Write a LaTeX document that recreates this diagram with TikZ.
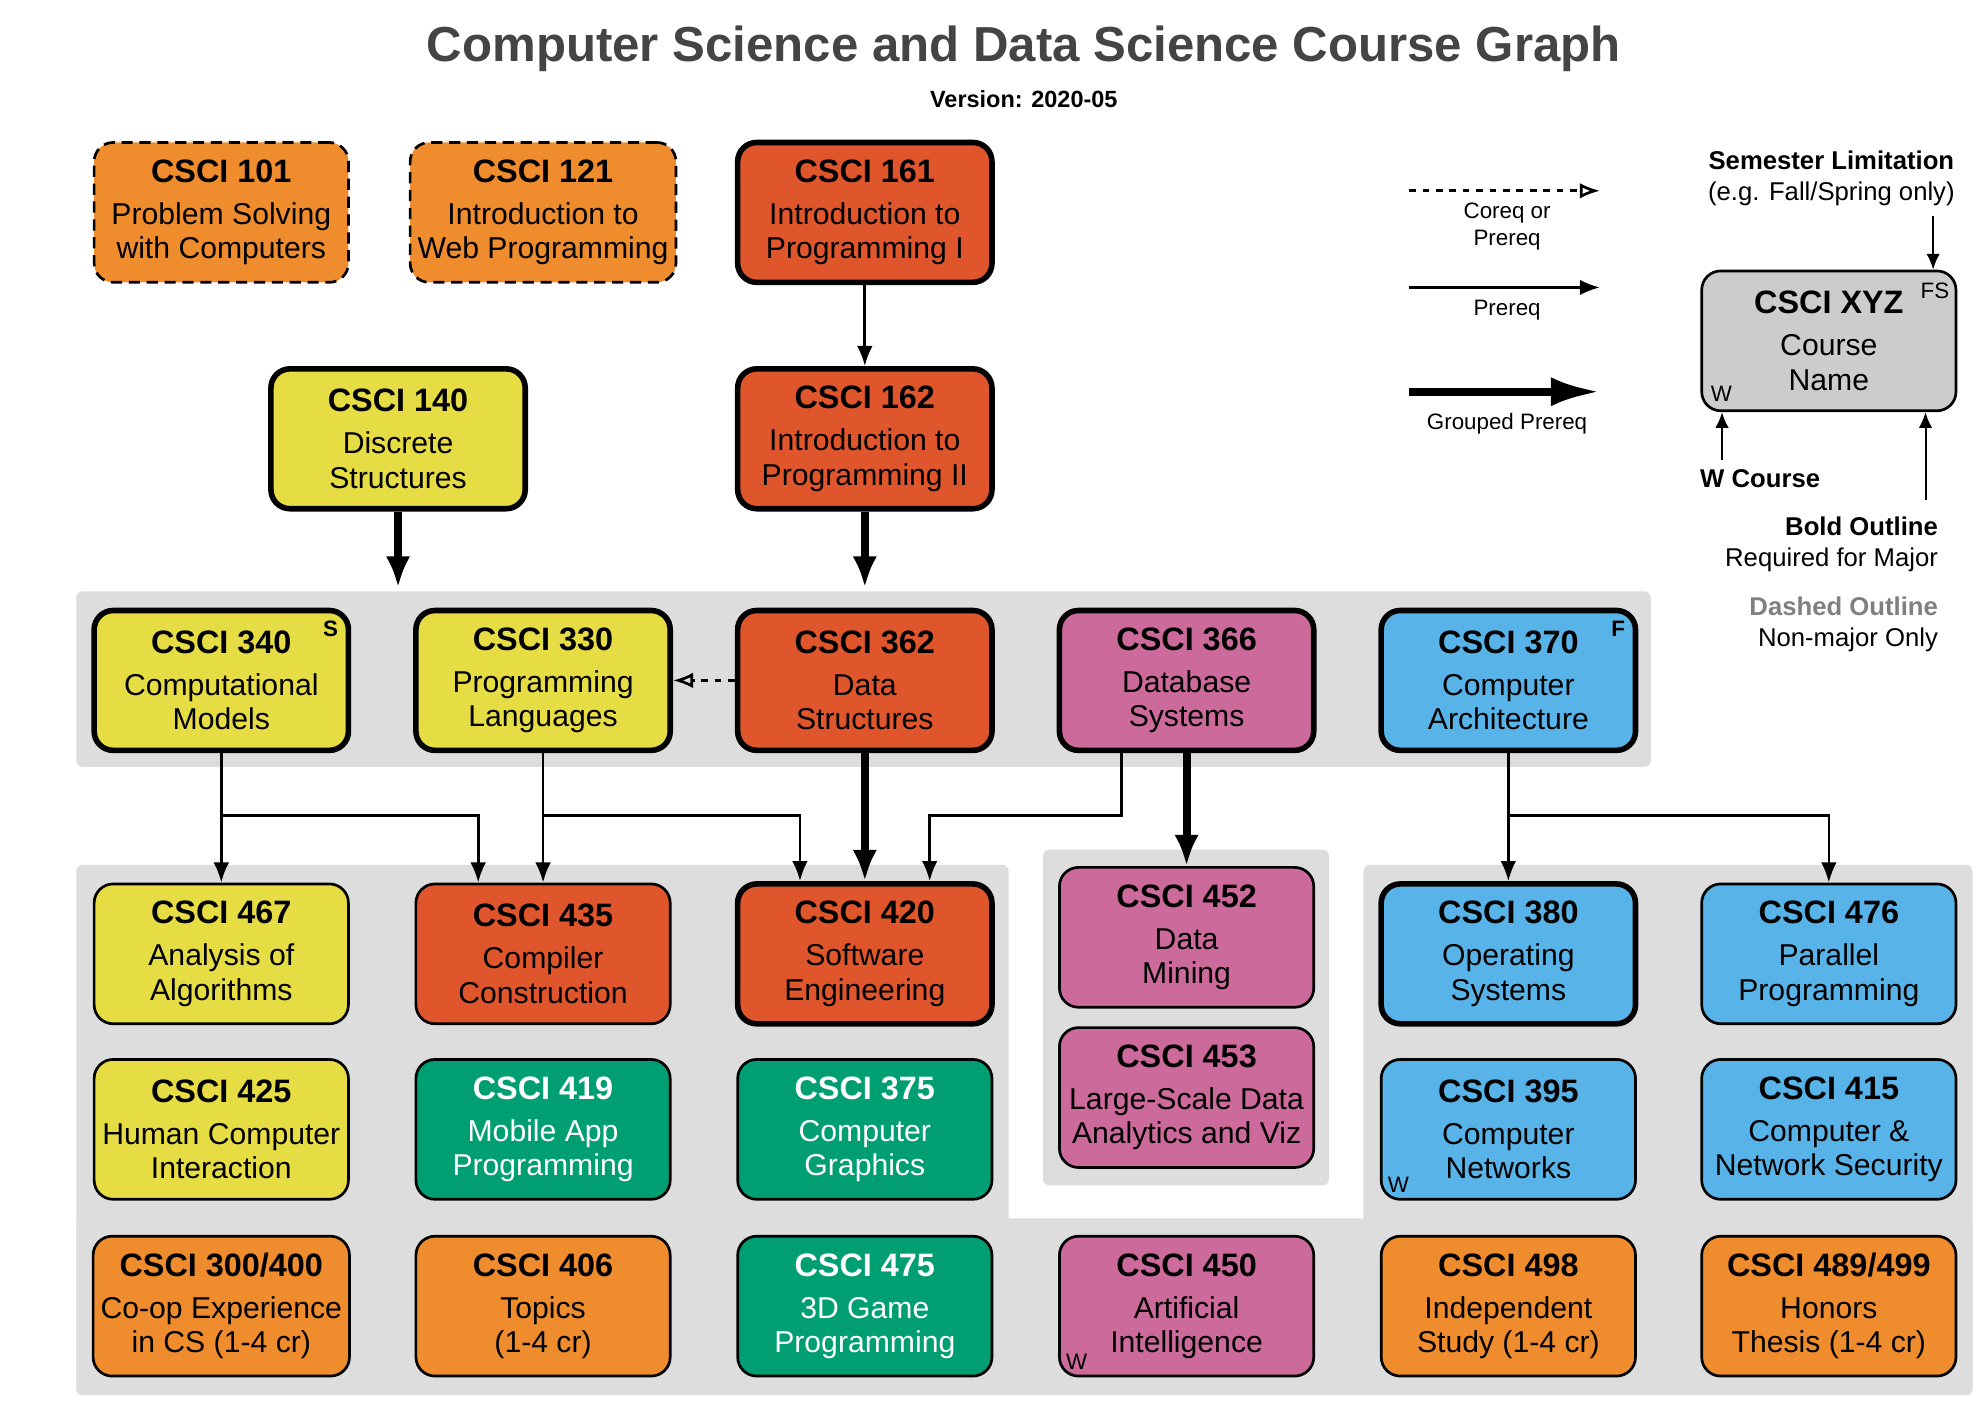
\documentclass[tikz,border=0pt]{standalone}
\usepackage{fontspec}
\setmainfont{Liberation Sans}
\usetikzlibrary{arrows.meta, positioning, calc}
\definecolor{cOrange}{HTML}{EE8C2E}
\definecolor{cRed}{HTML}{E0562C}
\definecolor{cYellow}{HTML}{E6DC44}
\definecolor{cPink}{HTML}{CC6A9C}
\definecolor{cBlue}{HTML}{58B4E8}
\definecolor{cGreen}{HTML}{009E73}
\definecolor{bandgray}{HTML}{DDDDDD}
\definecolor{titlegray}{HTML}{444444}
\tikzset{
  course/.style={draw=black, line width=1.2pt, rounded corners=0.3cm,
    minimum width=4cm, minimum height=2.2cm, align=center,
    font=\fontsize{13.5}{15.4}\selectfont},
  major/.style={line width=2.5pt},
  nonmajor/.style={dashed, dash pattern=on 5pt off 3pt},
  prereq/.style={-{Latex[length=9pt,width=7pt]}, line width=1.2pt},
  grouped/.style={-{Latex[length=14pt,width=11pt]}, line width=3.6pt},
  coreq/.style={-{Latex[open,length=9pt,width=7pt]}, line width=1.2pt, dashed},
  legendtext/.style={font=\fontsize{10}{12}\selectfont, align=center},
  flag/.style={font=\bfseries\fontsize{10}{10}\selectfont, inner sep=0pt}
}
\newcommand{\crs}[3]{\textbf{\fontsize{14.5}{15}\selectfont CSCI #1}\\[3.4pt]#2\\#3}
\begin{document}
\begin{tikzpicture}[x=0.02cm, y=-0.02cm]
  \useasboundingbox (0,0) rectangle (1560,1107);

  % Title
  \node[font=\bfseries\fontsize{22}{24}\selectfont, text=titlegray] (title) at (805,38) {Computer Science and Data Science Course Graph};
  \node[font=\bfseries\fontsize{10.5}{12}\selectfont] (version) at (805,78) {Version: 2020-05};

  % Gray bands
  \fill[bandgray, rounded corners=0.1cm] (60,465) rectangle (1298,603);
  \fill[bandgray, rounded corners=0.1cm] (60,680) rectangle (793,1097);
  \fill[bandgray, rounded corners=0.1cm] (820,668) rectangle (1045,932);
  \fill[bandgray, rounded corners=0.1cm] (1072,680) rectangle (1551,1097);
  \fill[bandgray, rounded corners=0.1cm] (60,958) rectangle (1551,1097);

  % Top rows
  \node[course, nonmajor, fill=cOrange] (c101) at (174,167) {\crs{101}{Problem Solving}{with Computers}};
  \node[course, nonmajor, fill=cOrange] (c121) at (427,167) {\crs{121}{Introduction to}{Web Programming}};
  \node[course, major, fill=cRed] (c161) at (680,167) {\crs{161}{Introduction to}{Programming I}};
  \node[course, major, fill=cYellow] (c140) at (313,345) {\crs{140}{Discrete}{Structures}};
  \node[course, major, fill=cRed] (c162) at (680,345) {\crs{162}{Introduction to}{Programming II}};

  % Core band
  \node[course, major, fill=cYellow] (c340) at (174,535) {\crs{340}{Computational}{Models}};
  \node[course, major, fill=cYellow] (c330) at (427,535) {\crs{330}{Programming}{Languages}};
  \node[course, major, fill=cRed] (c362) at (680,535) {\crs{362}{Data}{Structures}};
  \node[course, major, fill=cPink] (c366) at (933,535) {\crs{366}{Database}{Systems}};
  \node[course, major, fill=cBlue] (c370) at (1186,535) {\crs{370}{Computer}{Architecture}};

  % Upper division
  \node[course, fill=cYellow] (c467) at (174,750) {\crs{467}{Analysis of}{Algorithms}};
  \node[course, fill=cRed] (c435) at (427,750) {\crs{435}{Compiler}{Construction}};
  \node[course, major, fill=cRed] (c420) at (680,750) {\crs{420}{Software}{Engineering}};
  \node[course, fill=cPink] (c452) at (933,737) {\crs{452}{Data}{Mining}};
  \node[course, major, fill=cBlue] (c380) at (1186,750) {\crs{380}{Operating}{Systems}};
  \node[course, fill=cBlue] (c476) at (1438,750) {\crs{476}{Parallel}{Programming}};

  \node[course, fill=cYellow] (c425) at (174,888) {\crs{425}{Human Computer}{Interaction}};
  \node[course, fill=cGreen, text=white] (c419) at (427,888) {\crs{419}{Mobile App}{Programming}};
  \node[course, fill=cGreen, text=white] (c375) at (680,888) {\crs{375}{Computer}{Graphics}};
  \node[course, fill=cPink] (c453) at (933,863) {\crs{453}{Large-Scale Data}{Analytics and Viz}};
  \node[course, fill=cBlue] (c395) at (1186,888) {\crs{395}{Computer}{Networks}};
  \node[course, fill=cBlue] (c415) at (1438,888) {\crs{415}{Computer \&}{Network Security}};

  \node[course, fill=cOrange] (c300) at (174,1027) {\crs{300/400}{Co-op Experience}{in CS (1-4 cr)}};
  \node[course, fill=cOrange] (c406) at (427,1027) {\crs{406}{Topics}{(1-4 cr)}};
  \node[course, fill=cGreen, text=white] (c475) at (680,1027) {\crs{475}{3D Game}{Programming}};
  \node[course, fill=cPink] (c450) at (933,1027) {\crs{450}{Artificial}{Intelligence}};
  \node[course, fill=cOrange] (c498) at (1186,1027) {\crs{498}{Independent}{Study (1-4 cr)}};
  \node[course, fill=cOrange] (c489) at (1438,1027) {\crs{489/499}{Honors}{Thesis (1-4 cr)}};

  % Semester and W flags
  \node[flag, anchor=north east] (f340) at ($(c340.north east)+(-10,10)$) {S};
  \node[flag, anchor=north east] (f370) at ($(c370.north east)+(-10,10)$) {F};
  \node[flag, anchor=south west, font=\fontsize{10}{10}\selectfont] (w395) at ($(c395.south west)+(6,-6)$) {W};
  \node[flag, anchor=south west, font=\fontsize{10}{10}\selectfont] (w450) at ($(c450.south west)+(6,-6)$) {W};

  % Prerequisites
  \draw[prereq] (c161) -- (c162);
  \coordinate (g140) at (313,462);
  \coordinate (g162) at (680,462);
  \draw[grouped] (c140) -- (g140);
  \draw[grouped] (c162) -- (g162);
  \draw[coreq] (c362) -- (c330);
  \draw[prereq] (c340) -- (c467);
  \draw[prereq] (c340.south) |- (376,641) -- ($(c435.north)+(-51,0)$);
  \draw[prereq] (c330) -- (c435);
  \draw[prereq] (427,641) -| ($(c420.north)+(-51,0)$);
  \draw[grouped] (c362) -- (c420);
  \draw[prereq] ($(c366.south)+(-51,0)$) |- (731,641) -- ($(c420.north)+(51,0)$);
  \draw[grouped] (c366) -- (c452);
  \draw[prereq] (c370) -- (c380);
  \draw[prereq] (1186,641) -| (c476.north);

  % Legend
  \coordinate (ldA) at (1108,150); \coordinate (ldB) at (1258,150);
  \coordinate (lpA) at (1108,226); \coordinate (lpB) at (1258,226);
  \coordinate (lgA) at (1108,308); \coordinate (lgB) at (1258,308);
  \draw[coreq] (ldA) -- (ldB);
  \draw[prereq] (lpA) -- (lpB);
  \draw[grouped, -{Latex[length=22pt,width=13pt]}] (lgA) -- (lgB);
  \node[legendtext] (lcoreq) at (1185,178) {Coreq or\\Prereq};
  \node[legendtext] (lprereq) at (1185,244) {Prereq};
  \node[legendtext] (lgrouped) at (1185,333) {Grouped Prereq};

  \node[course, fill=black!20] (cxyz) at (1438,268) {\crs{XYZ}{Course}{Name}};
  \node[flag, anchor=north east, font=\fontsize{10}{10}\selectfont] (fxyz) at ($(cxyz.north east)+(-6,10)$) {FS};
  \node[flag, anchor=south west, font=\fontsize{10}{10}\selectfont] (wxyz) at ($(cxyz.south west)+(8,-8)$) {W};

  \node[legendtext, font=\fontsize{11.5}{14}\selectfont] (lsem) at (1440,140) {\textbf{Semester Limitation}\\(e.g. Fall/Spring only)};
  \coordinate (semA) at (1520,170);
  \draw[prereq, -{Latex[length=7pt,width=6pt]}, line width=0.9pt] (semA) -- (cxyz.north -| semA);
  \node[font=\bfseries\fontsize{11.5}{14}\selectfont] (lw) at (1384,376) {W Course};
  \coordinate (wA) at (1354,362);
  \draw[prereq, -{Latex[length=7pt,width=6pt]}, line width=0.9pt] (wA) -- (cxyz.south -| wA);
  \coordinate (bA) at (1514,393);
  \draw[prereq, -{Latex[length=7pt,width=6pt]}, line width=0.9pt] (bA) -- (cxyz.south -| bA);
  \node[align=right, anchor=north east, font=\fontsize{11.5}{14}\selectfont] (lbold) at (1530,400) {\textbf{Bold Outline}\\Required for Major};
  \node[align=right, anchor=north east, font=\fontsize{11.5}{14}\selectfont] (ldash) at (1530,463) {\textcolor{gray}{\textbf{Dashed Outline}}\\Non-major Only};
\end{tikzpicture}
\end{document}
